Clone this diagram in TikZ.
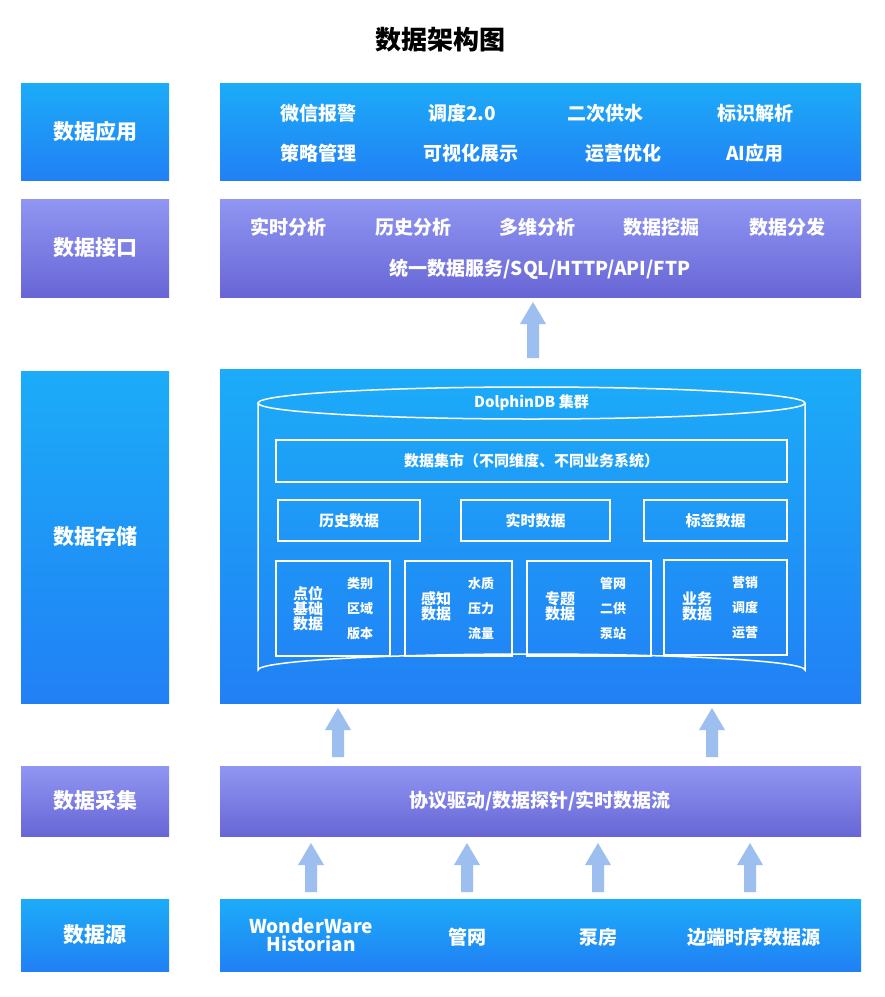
\documentclass[tikz,border=0pt]{standalone}
\usepackage{fontspec}
\setmainfont{Noto Sans CJK SC}
\usetikzlibrary{arrows.meta}
\definecolor{bluetop}{HTML}{1CACF8}
\definecolor{bluebot}{HTML}{2180F5}
\definecolor{purtop}{HTML}{9096F2}
\definecolor{purbot}{HTML}{6866D6}
\definecolor{arrowc}{HTML}{9DBFEF}
\tikzset{
  blue/.style={top color=bluetop, bottom color=bluebot, draw=none},
  purple/.style={top color=purtop, bottom color=purbot, draw=none},
  lbl/.style={text=white, font=\bfseries\fontsize{21}{24}\selectfont},
  itm/.style={text=white, font=\bfseries\fontsize{19}{22}\selectfont},
  sm/.style={text=white, font=\bfseries\fontsize{15}{18}\selectfont, align=center},
  xs/.style={text=white, font=\bfseries\fontsize{13}{26}\selectfont, align=center},
  inbox/.style={draw=white, line width=1.5pt},
  uparrow/.style={draw=none, fill=arrowc}
}
\newcommand{\uparr}[3]{% x, ybottom, ytop
  \fill[arrowc] (#1-6,#2) -- (#1+6,#2) -- (#1+6,#3+22) -- (#1+13,#3+22) -- (#1,#3) -- (#1-13,#3+22) -- (#1-6,#3+22) -- cycle;}
\begin{document}
\begin{tikzpicture}[x=1pt,y=-1pt]
\useasboundingbox (0,0) rectangle (885,997);
\fill[white] (0,0) rectangle (885,997);
\node[font=\bfseries\fontsize{26}{30}\selectfont] (title) at (440,40) {数据架构图};

% left labels
\node[blue, minimum width=148, minimum height=97] (l1) at (95,131.5) {};
\node[lbl] at (l1) {数据应用};
\node[purple, minimum width=148, minimum height=98] (l2) at (95,248) {};
\node[lbl] at (l2) {数据接口};
\node[blue, minimum width=148, minimum height=332] (l3) at (95,537) {};
\node[lbl] at (l3) {数据存储};
\node[purple, minimum width=148, minimum height=70] (l4) at (95,801) {};
\node[lbl] at (l4) {数据采集};
\node[blue, minimum width=148, minimum height=72] (l5) at (95,935) {};
\node[lbl] at (l5) {数据源};

% right panels
\node[blue, minimum width=641, minimum height=97] (r1) at (540.5,131.5) {};
\node[itm] at (318,113) {微信报警};
\node[itm] at (462,113) {调度2.0};
\node[itm] at (605,113) {二次供水};
\node[itm] at (755,113) {标识解析};
\node[itm] at (318,153) {策略管理};
\node[itm] at (471,153) {可视化展示};
\node[itm] at (623,153) {运营优化};
\node[itm] at (755,153) {AI应用};

\node[purple, minimum width=641, minimum height=98] (r2) at (540.5,248) {};
\node[itm] at (288,227) {实时分析};
\node[itm] at (413,227) {历史分析};
\node[itm] at (537,227) {多维分析};
\node[itm] at (661,227) {数据挖掘};
\node[itm] at (787,227) {数据分发};
\node[itm] at (540,269) {统一数据服务/SQL/HTTP/API/FTP};

\node[blue, minimum width=641, minimum height=334] (r3) at (540.5,536) {};
% cylinder
\draw[white, line width=1.5pt] (258,403) -- (258,670) arc[start angle=180, end angle=360, x radius=273.5, y radius=16] -- (805,403);
\draw[white, line width=1.5pt] (531.5,403) ellipse[x radius=273.5, y radius=16];
\node[text=white, font=\bfseries\fontsize{15}{18}\selectfont] (db) at (531.5,403) {DolphinDB 集群};

\node[inbox, minimum width=511, minimum height=42] (mart) at (531.5,461) {};
\node[sm] at (mart) {数据集市（不同维度、不同业务系统）};
\node[inbox, minimum width=142, minimum height=41] (h) at (349,520.5) {};
\node[sm] at (h) {历史数据};
\node[inbox, minimum width=149, minimum height=41] (rt) at (535.5,520.5) {};
\node[sm] at (rt) {实时数据};
\node[inbox, minimum width=143, minimum height=41] (tag) at (715.5,520.5) {};
\node[sm] at (tag) {标签数据};

\node[inbox, minimum width=114, minimum height=95] (b1) at (333,608.5) {};
\node[sm] at (308,608.5) {点位\\[-3pt]基础\\[-3pt]数据};
\node[xs] at (360,608.5) {类别\\[-1pt]区域\\[-1pt]版本};
\node[inbox, minimum width=107, minimum height=95] (b2) at (458.5,608.5) {};
\node[sm] at (436,606) {感知\\[-3pt]数据};
\node[xs] at (481,608.5) {水质\\[-1pt]压力\\[-1pt]流量};
\node[inbox, minimum width=124, minimum height=95] (b3) at (589,608.5) {};
\node[sm] at (560,606) {专题\\[-3pt]数据};
\node[xs] at (613,608.5) {管网\\[-1pt]二供\\[-1pt]泵站};
\node[inbox, minimum width=123, minimum height=95] (b4) at (725.5,607.5) {};
\node[sm] at (697,606) {业务\\[-3pt]数据};
\node[xs] at (745,607.5) {营销\\[-1pt]调度\\[-1pt]运营};

\node[purple, minimum width=641, minimum height=70] (r4) at (540.5,801) {};
\node[itm] at (540,801) {协议驱动/数据探针/实时数据流};

\node[blue, minimum width=641, minimum height=72] (r5) at (540.5,935) {};
\node[text=white, font=\bfseries\fontsize{19}{22}\selectfont, align=center] at (311,935) {WonderWare\\[-4pt]Historian};
\node[itm] at (467,937) {管网};
\node[itm] at (598,937) {泵房};
\node[itm] at (754,937) {边端时序数据源};

% arrows
\uparr{533}{358}{302}
\uparr{338}{757}{708}
\uparr{712}{757}{708}
\uparr{311}{892}{843}
\uparr{467}{892}{843}
\uparr{598}{892}{843}
\uparr{750}{892}{843}
\end{tikzpicture}
\end{document}
